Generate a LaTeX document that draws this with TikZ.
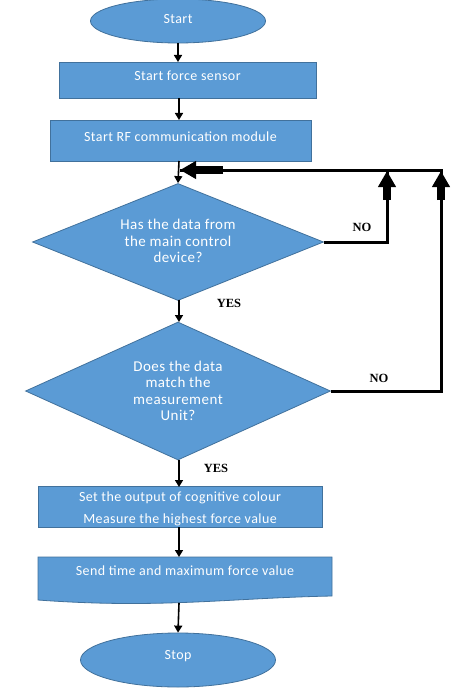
\documentclass[tikz,border=0pt]{standalone}
\usepackage{fontspec}
\setmainfont{Carlito}[LetterSpace=3]
\newfontfamily\lblfont{Liberation Serif}
\usetikzlibrary{shapes.geometric,arrows.meta}
\definecolor{fillblue}{HTML}{5B9BD5}
\definecolor{edgeblue}{HTML}{41719C}
\tikzset{
  shp/.style={fill=fillblue,draw=edgeblue,line width=0.8pt},
  boxn/.style={shp,rectangle,inner sep=0pt},
  ell/.style={shp,ellipse,inner sep=0pt},
  dia/.style={shp,diamond,inner sep=0pt},
  txt/.style={text=white,font=\fontsize{14}{16}\selectfont,align=center,inner sep=0pt},
  flow/.style={line width=1.6pt,-{Triangle[width=8pt,length=7pt]}},
  fb/.style={line width=3pt},
  bigtip/.style={line width=8pt,-{Triangle[width=17pt,length=16pt]}},
  lbl/.style={font=\lblfont\bfseries\fontsize{12.5}{14}\selectfont,inner sep=0pt}
}
\begin{document}
\begin{tikzpicture}[x=1pt,y=-1pt]
\useasboundingbox[fill=white] (0,0) rectangle (474,690);
% nodes
\node[ell,minimum width=175pt,minimum height=44pt] (start) at (178,21) {};
\node[txt] at ([yshift=2pt]start.center) {Start};
\node[boxn,minimum width=257pt,minimum height=36pt] (b1) at (187.5,80) {};
\node[txt] at ([yshift=4pt]b1.center) {Start force sensor};
\node[boxn,minimum width=261pt,minimum height=41pt] (b2) at (180.5,140.5) {};
\node[txt] at ([yshift=4pt]b2.center) {Start RF communication module};
\node[dia,minimum width=291pt,minimum height=117pt] (d1) at (178,242) {};
\node[txt,font=\fontsize{15}{16.5}\selectfont] at ([yshift=1pt]d1.center) {Has the data from\\the main control\\device?};
\node[dia,minimum width=305pt,minimum height=138pt] (d2) at (178,391) {};
\node[txt,font=\fontsize{15}{16.5}\selectfont] at (d2.center) {Does the data\\match the\\measurement\\Unit?};
\node[boxn,minimum width=284pt,minimum height=41pt] (b3) at (180,506.5) {};
\node[txt,font=\fontsize{14}{22}\selectfont] at ([yshift=-2pt]b3.center) {Set the output of cognitive colour\\Measure the highest force value};
\node[inner sep=0pt,minimum width=294pt,minimum height=40pt] (b4) at (185,578) {};
\fill[fillblue,draw=edgeblue,line width=0.8pt] (38,557) -- (332,557) -- (332,596) .. controls (230,598) and (160,609) .. (38,600) -- cycle;
\node[txt] at (185,571) {Send time and maximum force value};
\coordinate (b4b) at (179,603);
\node[ell,minimum width=195pt,minimum height=54pt] (stop) at (178,660) {};
\node[txt] at ([yshift=4pt]stop.center) {Stop};
% main flow
\draw[flow] (178,43) -- (178,62);
\draw[flow] (179,98) -- (179,120);
\draw[flow] (179,161) -- (d1.north);
\draw[flow] (179,300) -- (179,322);
\draw[flow] (179,460) -- (179,487);
\draw[flow] (179,527) -- (179,557);
\draw[flow] (b4b) -- (stop.north);
% feedback
\coordinate (m) at (180,170);
\coordinate (r1) at (387,170);
\coordinate (r2) at (441,170);
\draw[fb] (d1.east) -| (r1);
\draw[fb] (d2.east) -| (r2) -- (m);
\draw[bigtip] ([yshift=-30pt]r1) -- ([yshift=-1pt]r1);
\draw[bigtip] ([yshift=-30pt]r2) -- ([yshift=-1pt]r2);
\draw[bigtip] ([xshift=43pt]m) -- (m);
% labels
\node[lbl] at (362,227) {NO};
\node[lbl] at (379,378) {NO};
\node[lbl] at (229,303) {YES};
\node[lbl] at (216,468) {YES};
\end{tikzpicture}
\end{document}
